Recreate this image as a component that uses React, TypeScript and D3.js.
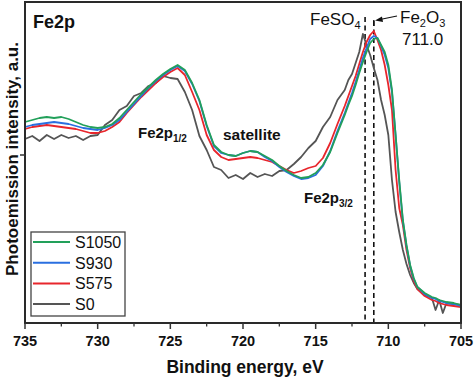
import React from "react";
import * as d3 from "d3";

const energy = [
  735, 734.5, 734, 733.5, 733, 732.5, 732, 731.5, 731, 730.5, 730, 729.5, 729,
  728.5, 728, 727.5, 727, 726.5, 726, 725.5, 725, 724.5, 724, 723.5, 723,
  722.5, 722, 721.5, 721, 720.5, 720, 719.5, 719, 718.5, 718, 717.5, 717,
  716.5, 716, 715.5, 715, 714.5, 714, 713.5, 713, 712.75, 712.5, 712.25, 712,
  711.75, 711.5, 711.25, 711, 710.75, 710.5, 710.25, 710, 709.75, 709.5,
  709.25, 709, 708.75, 708.5, 708.25, 708, 707.5, 707, 706.75, 706.5, 706.25,
  706, 705.5, 705,
];

const s1050 = [
  201, 203, 205, 206, 205, 206, 204, 201, 198, 196, 195, 196, 199,
  205, 213, 221, 229, 236, 243, 249, 254, 258, 253, 240, 223,
  198, 178, 171, 168, 167, 170, 172, 171, 167, 163, 157, 152,
  148, 145, 146, 150, 158, 171, 190, 208, 218, 227, 238, 250,
  261, 271, 280, 284, 285, 278, 271, 258, 233, 188, 143, 103,
  78, 58, 45, 36, 30, 26, 25, 23, 22, 21, 20, 18,
];

const s930 = [
  196, 198, 199, 200, 201, 200, 199, 197, 195, 194, 193, 195, 198,
  203, 211, 219, 227, 235, 242, 248, 253, 257, 252, 239, 222,
  197, 177, 170, 168, 167, 170, 172, 171, 166, 162, 156, 151,
  147, 144, 145, 148, 157, 172, 192, 210, 220, 230, 241, 253,
  265, 275, 284, 287, 285, 277, 268, 255, 231, 188, 141, 102,
  77, 57, 44, 36, 29, 25, 24, 22, 21, 20, 19, 17,
];

const s575 = [
  194, 196, 197, 198, 197, 196, 195, 194, 192, 190, 190, 192, 196,
  201, 210, 218, 226, 233, 240, 246, 251, 255, 248, 231, 213,
  188, 173, 166, 163, 164, 165, 166, 165, 163, 161, 157, 153,
  150, 152, 155, 157, 165, 180, 199, 217, 227, 237, 247, 259,
  271, 281, 288, 292, 283, 273, 258, 238, 213, 153, 115, 98,
  73, 55, 42, 34, 27, 23, 22, 20, 19, 18, 17, 16,
];

const s0 = [
  184, 187, 182, 188, 184, 188, 185, 187, 183, 187, 188, 198, 203,
  213, 217, 227, 230, 237, 240, 247, 245, 244, 231, 213, 187,
  173, 156, 153, 145, 148, 144, 150, 146, 149, 147, 152, 153,
  159, 166, 175, 182, 196, 206, 223, 233, 243, 249, 260, 271,
  289, 278, 268, 255, 243, 223, 208, 188, 143, 111, 91, 73,
  59, 48, 40, 34, 28, 25, 13, 23, 10, 20, 19, 18,
];

const seriesNames = ["S0", "S575", "S930", "S1050"];
const seriesColors = ["#555555", "#e8262c", "#2a6fe0", "#22a05a"];
const seriesData = [s0, s575, s930, s1050];
const legendOrder = ["S1050", "S930", "S575", "S0"];

const majorTicks = [735, 730, 725, 720, 715, 710, 705];
const minorTicks = [732.5, 727.5, 722.5, 717.5, 712.5, 707.5];
const refLines = [711.6, 711.0];

const W = 474;
const H = 378;
const L = 25, R = 461, T = 2, B = 323;
const FONT = "'Liberation Sans', Arial, Helvetica, sans-serif";

export default function App() {
  const x = d3.scaleLinear().domain([735, 705]).range([L, R]);
  const y = d3.scaleLinear().domain([0, 321]).range([B, T]);
  const line = d3
    .line<[number, number]>()
    .x((d) => x(d[0]))
    .y((d) => y(d[1]));

  return (
    <svg
      width={W}
      height={H}
      style={{ position: "absolute", left: 0, top: 0, background: "#fff" }}
      fontFamily={FONT}
    >
      <rect x={0} y={0} width={W} height={H} fill="#fff" />
      {refLines.map((e, i) => (
        <line
          key={e}
          x1={x(e)}
          x2={x(e)}
          y1={i === 0 ? 17 : 21}
          y2={B}
          stroke="#111"
          strokeWidth={1.6}
          strokeDasharray="5,3.5"
        />
      ))}
      {seriesData.map((s, i) => (
        <path
          key={seriesNames[i]}
          d={line(energy.map((e, j) => [e, s[j]] as [number, number])) || ""}
          fill="none"
          stroke={seriesColors[i]}
          strokeWidth={1.8}
          strokeLinejoin="round"
        />
      ))}
      <rect
        x={L}
        y={T}
        width={R - L}
        height={B - T}
        fill="none"
        stroke="#2a2a2a"
        strokeWidth={2}
      />
      {majorTicks.map((t) => (
        <g key={t}>
          <line x1={x(t)} x2={x(t)} y1={B} y2={B + 6} stroke="#333" strokeWidth={1.5} />
          <text
            x={x(t)}
            y={346}
            textAnchor="middle"
            fontSize={14.5}
            fontWeight="bold"
            fill="#111"
          >
            {t}
          </text>
        </g>
      ))}
      {minorTicks.map((t) => (
        <line key={t} x1={x(t)} x2={x(t)} y1={B} y2={B + 3.5} stroke="#333" strokeWidth={1.3} />
      ))}
      <line x1={L - 5} x2={L} y1={y(168)} y2={y(168)} stroke="#333" strokeWidth={1.5} />
      <text
        x={245}
        y={373}
        textAnchor="middle"
        fontSize={17.5}
        fontWeight="bold"
        fill="#111"
      >
        Binding energy, eV
      </text>
      <text
        transform="translate(18,159) rotate(-90)"
        textAnchor="middle"
        fontSize={17}
        fontWeight="bold"
        fill="#111"
      >
        Photoemission intensity, a.u.
      </text>
      <text x={33} y={28} fontSize={18} fontWeight="bold" fill="#111">
        Fe2p
      </text>
      <text x={138} y={138} fontSize={15} fontWeight="bold" fill="#111">
        Fe2p
        <tspan fontSize={10} dy={4}>1/2</tspan>
      </text>
      <text x={223} y={140} fontSize={15.5} fontWeight="bold" fill="#111">
        satellite
      </text>
      <text x={304} y={203} fontSize={15} fontWeight="bold" fill="#111">
        Fe2p
        <tspan fontSize={10} dy={4}>3/2</tspan>
      </text>
      <text x={310} y={25} fontSize={17} fill="#111">
        FeSO
        <tspan fontSize={11} dy={4}>4</tspan>
      </text>
      <text x={400} y={23} fontSize={17} fill="#111">
        Fe
        <tspan fontSize={11} dy={4}>2</tspan>
        <tspan dy={-4}>O</tspan>
        <tspan fontSize={11} dy={4}>3</tspan>
      </text>
      <text x={402} y={45} fontSize={17} fill="#111">
        711.0
      </text>
      <line x1={397} y1={16} x2={380} y2={19.5} stroke="#111" strokeWidth={1.2} />
      <polygon points="375,20.5 382,16.5 383,22" fill="#111" />
      <line x1={x(711)} x2={x(711)} y1={20} y2={26} stroke="#111" strokeWidth={1.4} />
      <rect x={31} y={232} width={94} height={84} fill="#fff" stroke="#444" strokeWidth={1.3} />
      {legendOrder.map((n, i) => {
        const idx = seriesNames.indexOf(n);
        const ly = 242 + i * 20.7;
        return (
          <g key={n}>
            <line
              x1={33}
              x2={70}
              y1={ly}
              y2={ly}
              stroke={seriesColors[idx]}
              strokeWidth={2}
            />
            <text x={75} y={ly + 6} fontSize={16} fill="#111">
              {n}
            </text>
          </g>
        );
      })}
    </svg>
  );
}
